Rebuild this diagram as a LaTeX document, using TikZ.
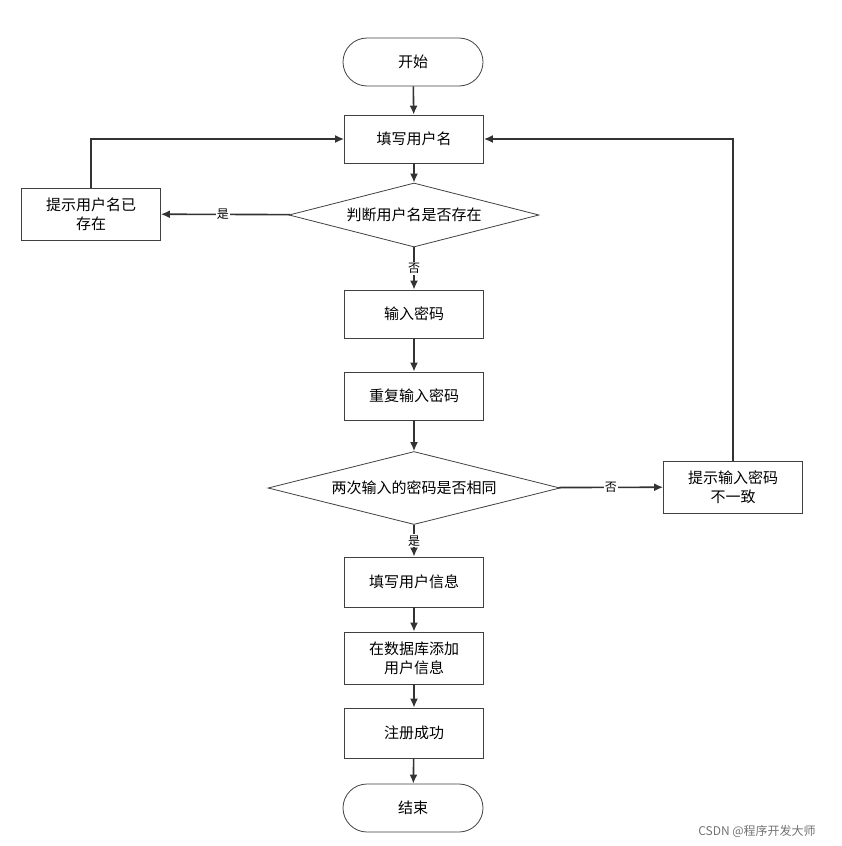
\documentclass[tikz,border=0pt]{standalone}
\usepackage{fontspec}
\setmainfont{Noto Sans CJK SC}
\usetikzlibrary{shapes.geometric,arrows.meta}
\begin{document}
\begin{tikzpicture}[x=1pt,y=-1pt,
  box/.style={draw=black!75,line width=0.8pt,minimum width=139pt,minimum height=48pt,align=center,font=\fontsize{15}{19}\selectfont},
  term/.style={box,rounded corners=24pt,minimum width=140pt},
  dia/.style={draw=black!75,line width=0.8pt,diamond,aspect=3.9,inner sep=1pt,font=\fontsize{15}{19}\selectfont},
  arr/.style={draw=black!80,line width=1.6pt,-{Latex[length=9pt,width=8pt]}},
  lab/.style={fill=white,inner sep=1pt,font=\fontsize{12}{14}\selectfont}]
\useasboundingbox (0,0) rectangle (842,846);
\node[term] (s) at (413,62) {开始};
\node[box] (a) at (414,139) {填写用户名};
\node[dia,minimum width=250pt,minimum height=64pt] (d1) at (414,215) {判断用户名是否存在};
\node[box,minimum height=52pt] (e1) at (91,214) {提示用户名已\\存在};
\node[box] (b) at (414,314) {输入密码};
\node[box] (c) at (414,396) {重复输入密码};
\node[dia,minimum width=292pt,minimum height=73pt] (d2) at (414,488) {两次输入的密码是否相同};
\node[box,minimum height=52pt] (e2) at (733,487) {提示输入密码\\不一致};
\node[box,minimum height=50pt] (f) at (414,582) {填写用户信息};
\node[box,minimum height=52pt] (g) at (414,658) {在数据库添加\\用户信息};
\node[box,minimum height=50pt] (h) at (414,733) {注册成功};
\node[term] (t) at (413,808) {结束};
\draw[arr] (s) -- (a);
\draw[arr] (a) -- (d1);
\draw[arr] (d1) -- node[lab,pos=0.52] (l1) {是} (e1);
\draw[arr] (e1.north) |- (a.west);
\draw[arr] (d1) -- node[lab,pos=0.5] (l2) {否} (b);
\draw[arr] (b) -- (c);
\draw[arr] (c) -- (d2);
\draw[arr] (d2) -- node[lab,pos=0.5] (l3) {否} (e2);
\draw[arr] (e2.north) |- (a.east);
\draw[arr] (d2) -- node[lab,pos=0.5] (l4) {是} (f);
\draw[arr] (f) -- (g);
\draw[arr] (g) -- (h);
\draw[arr] (h) -- (t);
\node[text=black!55,font=\fontsize{12}{14}\selectfont] (wm) at (757,831) {CSDN @程序开发大师};
\end{tikzpicture}
\end{document}
